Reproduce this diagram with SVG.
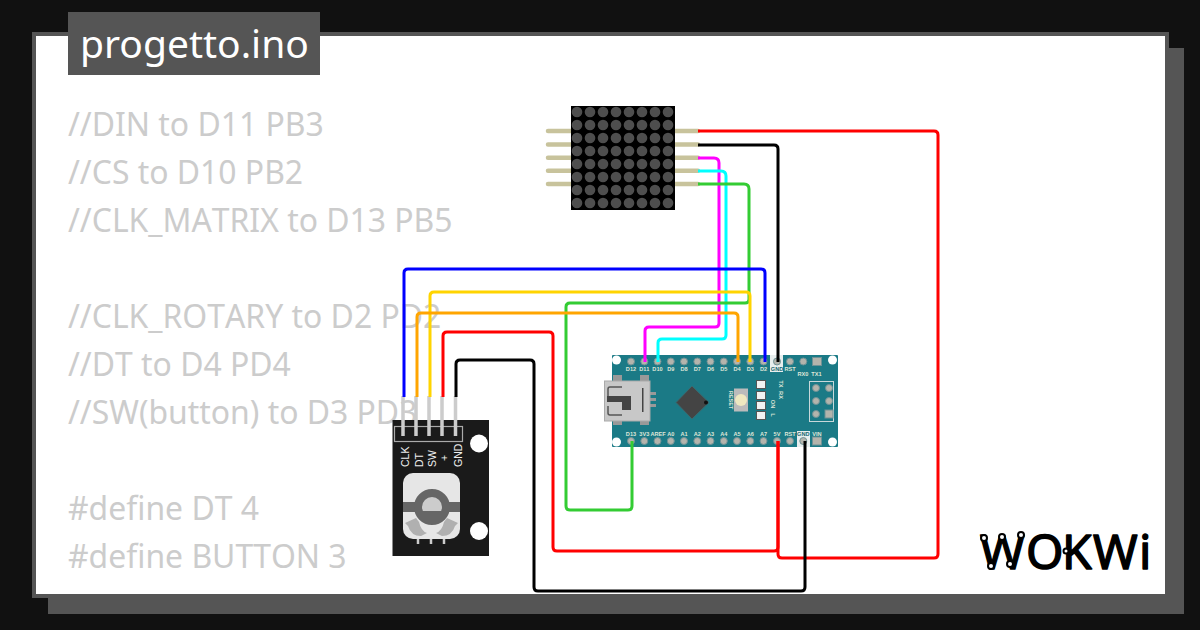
<svg xmlns="http://www.w3.org/2000/svg" width="1200" height="630" viewBox="0 0 1200 630">
<style>
.code{font:31.900px "Noto Sans",sans-serif;fill:#ccc;font-kerning:none}
.wire{fill:none;stroke-width:3;stroke-linejoin:round}
.pinl{font:bold 5.6px "Liberation Sans",sans-serif;fill:#dfe6d8;text-anchor:middle}
.enc{font:10.5px "Liberation Sans",sans-serif;fill:#eee;text-anchor:start}
.hole{fill:#b4b4ac;stroke:#6f9296;stroke-width:1}
.sq{fill:#b4b4ac;stroke:#6f9296;stroke-width:1}
.mp{stroke:#c8c39c;stroke-width:4.500;stroke-linecap:round;fill:none}
.ep{stroke:#ccc;stroke-width:3.500;fill:none}
.led{fill:#f2f2f2;stroke:#555;stroke-width:1}
</style>
<defs>
<circle id="d" r="5.300" fill="#4e4e4e"/>
<g id="row"><use href="#d" x="0"/><use href="#d" x="13"/><use href="#d" x="26"/><use href="#d" x="39"/><use href="#d" x="52"/><use href="#d" x="65"/><use href="#d" x="78"/><use href="#d" x="91"/></g>
<circle id="h" class="hole" r="3.500"/>
<g id="pins"><use href="#h" x="631"/><use href="#h" x="644.300"/><use href="#h" x="657.500"/><use href="#h" x="670.800"/><use href="#h" x="684"/><use href="#h" x="697.300"/><use href="#h" x="710.500"/><use href="#h" x="723.800"/><use href="#h" x="737"/><use href="#h" x="750.300"/><use href="#h" x="763.500"/><use href="#h" x="777"/><use href="#h" x="790"/><use href="#h" x="803.300"/></g>
</defs>
<rect width="1200" height="630" fill="#111"/>
<rect x="48" y="48" width="1136" height="566" fill="#555"/>
<rect x="34" y="34" width="1133" height="562" fill="#fff" stroke="#555" stroke-width="4"/>
<rect x="68" y="12" width="252" height="63" fill="#555"/>
<text x="80" y="58" font-family="Noto Sans,sans-serif" font-size="39" fill="#fff">progetto.ino</text>
<g class="code">
<text x="68" y="136">//DIN to D11 PB3</text>
<text x="68" y="184">//CS to D10 PB2</text>
<text x="68" y="232">//CLK_MATRIX to D13 PB5</text>
<text x="68" y="328">//CLK_ROTARY to D2 PD2</text>
<text x="68" y="376">//DT to D4 PD4</text>
<text x="68" y="424">//SW(button) to D3 PD3</text>
<text x="68" y="520">#define DT 4</text>
<text x="68" y="568">#define BUTTON 3</text>
</g>
<g id="matrix">
<path class="mp" d="M548 131H571M548 144.500H571M548 157.700H571M548 170.800H571M548 184H571M675 131H698M675 144.500H698M675 157.700H698M675 170.800H698M675 184H698"/>
<rect x="571" y="106" width="104" height="104" fill="#000"/>
<g transform="translate(577,0)"><use href="#row" y="112"/><use href="#row" y="125"/><use href="#row" y="138"/><use href="#row" y="151"/><use href="#row" y="164"/><use href="#row" y="177"/><use href="#row" y="190"/><use href="#row" y="203"/></g>
</g>
<g id="nano">
<rect x="612" y="355" width="226" height="92" rx="1" fill="#1b7a86"/>
<g fill="#fff"><circle cx="616.500" cy="360" r="4.500"/><circle cx="832.500" cy="360" r="4.500"/><circle cx="616.500" cy="442" r="4.500"/><circle cx="832.500" cy="442" r="4.500"/></g>
<rect x="770" y="355" width="13" height="17" fill="#e8eeee"/>
<rect x="797" y="431" width="13" height="16" fill="#e8eeee"/>
<use href="#pins" y="361.500"/>
<rect x="812.500" y="357.500" width="9" height="8" class="sq"/>
<use href="#pins" y="441"/>
<rect x="812.500" y="437" width="9" height="8" class="sq"/>
<g class="pinl">
<text x="631" y="371">D12</text><text x="644.300" y="371">D11</text><text x="657.500" y="371">D10</text><text x="670.800" y="371">D9</text><text x="684" y="371">D8</text><text x="697.300" y="371">D7</text><text x="710.500" y="371">D6</text><text x="723.800" y="371">D5</text><text x="737" y="371">D4</text><text x="750.300" y="371">D3</text><text x="763.500" y="371">D2</text><text x="777" y="371" style="fill:#17666f">GND</text><text x="790" y="371">RST</text><text x="803" y="376">RX0</text><text x="816.500" y="376">TX1</text>
<text x="631" y="436">D13</text><text x="644.300" y="436">3V3</text><text x="658" y="436">AREF</text><text x="670.800" y="436">A0</text><text x="684" y="436">A1</text><text x="697.300" y="436">A2</text><text x="710.500" y="436">A3</text><text x="723.800" y="436">A4</text><text x="737" y="436">A5</text><text x="750.300" y="436">A6</text><text x="763.500" y="436">A7</text><text x="777" y="436">5V</text><text x="790" y="436">RST</text><text x="803.300" y="436" style="fill:#17666f">GND</text><text x="817" y="436">VIN</text>
</g>
<rect x="613" y="375" width="9" height="7" fill="#999"/><rect x="640" y="375" width="9" height="7" fill="#999"/>
<rect x="613" y="420" width="9" height="5" fill="#999"/><rect x="640" y="420" width="9" height="5" fill="#999"/>
<rect x="650" y="392" width="6" height="3" fill="#999"/><rect x="650" y="398" width="6" height="3" fill="#999"/><rect x="650" y="404" width="6" height="3" fill="#999"/>
<rect x="604.500" y="381" width="45.500" height="40" fill="#c8c8c8" stroke="#aaa"/>
<path d="M608 396V389Q608 387 610 387H622" fill="none" stroke="#555" stroke-width="1.500"/>
<path d="M608 406V413Q608 415 610 415H622" fill="none" stroke="#555" stroke-width="1.500"/>
<path d="M607 396H631V410H622V402H607Z" fill="#444"/>
<rect x="642" y="388" width="1.500" height="24" fill="#444"/>
<path d="M692 386L709 402.500L692 419L676 402.500Z" fill="#444" stroke="#3a6a70"/>
<circle cx="706" cy="402.500" r="2" fill="#111"/>
<rect x="734" y="388.500" width="14" height="23" fill="#bbb"/>
<circle cx="741" cy="400" r="6" fill="#eee8c0"/>
<text transform="translate(729,400) rotate(90)" class="pinl">RESET</text>
<rect x="756.500" y="380.500" width="9" height="8" class="led"/><rect x="756.500" y="391.500" width="9" height="8" class="led"/><rect x="756.500" y="401.500" width="9" height="8" class="led"/><rect x="756.500" y="411.500" width="9" height="8" class="led"/>
<g class="pinl"><text transform="translate(779,384) rotate(90)">TX</text><text transform="translate(779,395) rotate(90)">RX</text><text transform="translate(771,404) rotate(90)">ON</text><text transform="translate(771,415) rotate(90)">L</text></g>
<rect x="809.500" y="381.500" width="24" height="40" fill="none" stroke="#c8d8da" stroke-width="1"/>
<use href="#h" x="816" y="388"/><use href="#h" x="829" y="388"/><use href="#h" x="816" y="401"/><use href="#h" x="829" y="401"/><use href="#h" x="816" y="414"/>
<rect x="825" y="410" width="8" height="8" class="sq"/>
</g>
<g id="encoder">
<rect x="392.500" y="420" width="96.500" height="136" fill="#1a1a1a"/>
<rect x="394.500" y="426.500" width="68" height="15" fill="none" stroke="#aaa" stroke-width="1.200"/>
<path class="ep" d="M403 396V436M416 396V436M429 396V436M442 396V436M455.500 396V436"/>
<circle cx="479" cy="443.500" r="9" fill="#fff"/><circle cx="479" cy="531" r="9" fill="#fff"/>
<g class="enc"><text transform="translate(409,467) rotate(-90)">CLK</text><text transform="translate(423,467) rotate(-90)">DT</text><text transform="translate(436,467) rotate(-90)">SW</text><text transform="translate(448,461) rotate(-90)">+</text><text transform="translate(462,467) rotate(-90)">GND</text></g>
<path d="M418 536V544M431 536V544M444 536V544" stroke="#ccc" stroke-width="2.500"/>
<rect x="403" y="473" width="57" height="66" rx="10" fill="#e6e6e6"/>
<rect x="403" y="502" width="57" height="10" fill="#666"/>
<circle cx="432" cy="507" r="14" fill="#ccc" stroke="#666" stroke-width="8"/>
<rect x="420" y="511" width="24" height="7" fill="#666"/>
<path d="M405 523L416 518L419 522Q421 531 427 533L421 536Q411 536 408 526Z" fill="#b0b0b0"/>
<path d="M458 523L447 518L444 522Q442 531 436 533L442 536Q452 536 455 526Z" fill="#b0b0b0"/>
</g>
<g id="connectors">
<path class="wire" stroke="#f00" d="M698 131H934Q938 131 938 135V554Q938 558 934 558H782Q778 558 778 554V441"/>
<path class="wire" stroke="#000" d="M698 145H774Q778 145 778 149V362"/>
<path class="wire" stroke="#f0f" d="M698 158H714Q719 158 719 163V323Q719 327 715 327H649Q645 327 645 331V362"/>
<path class="wire" stroke="#0ff" d="M698 171H721Q726 171 726 176V335Q726 339 722 339H662Q658 339 658 343V362"/>
<path class="wire" stroke="#3c3" d="M698 184H744Q749 184 749 189V299Q749 303 745 303H570Q566 303 566 307V506Q566 510 570 510H628Q632 510 632 506V441"/>
<path class="wire" stroke="#00f" d="M404 397V273Q404 269 408 269H761Q765 269 765 273V362"/>
<path class="wire" stroke="#ffd400" d="M430 397V296Q430 292 434 292H746Q750 292 750 296V362"/>
<path class="wire" stroke="#ffa500" d="M417 397V317Q417 313 421 313H734Q738 313 738 317V362"/>
<path class="wire" stroke="#f00" d="M443 397V336Q443 332 447 332H549Q553 332 553 336V547Q553 551 557 551H774Q778 551 778 547V441"/>
<path class="wire" stroke="#000" d="M456 397V364Q456 360 460 360H530Q534 360 534 364V587Q534 591 538 591H801Q805 591 805 587V441"/>
</g>
<g id="logo">
<text x="980 1026 1062 1093 1139" y="569" font-family="Noto Sans,sans-serif" font-size="48" fill="#000" stroke="#000" stroke-width="1.400" stroke-linejoin="round">WOKWi</text>
<g fill="#fff" stroke="#000" stroke-width="2"><circle cx="984" cy="538" r="3"/><circle cx="1002" cy="537" r="3"/><circle cx="1021" cy="535" r="3"/><circle cx="991" cy="566" r="3"/><circle cx="1010" cy="564" r="3"/><circle cx="1066" cy="551" r="2.500"/></g>
</g>
</svg>
